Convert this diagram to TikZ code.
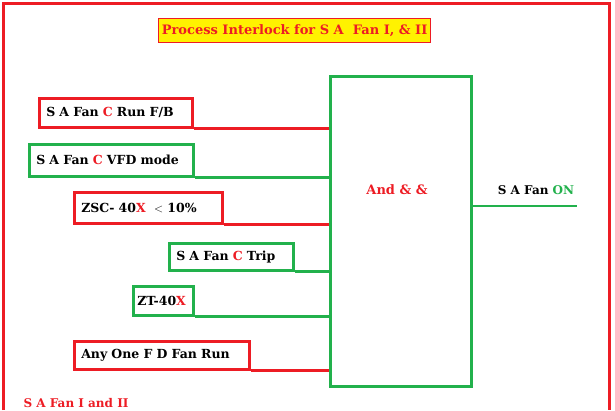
\documentclass[tikz,border=0pt]{standalone}
\usepackage{fontspec}
\setmainfont{DejaVu Serif}
\definecolor{rd}{RGB}{237,28,36}
\definecolor{gn}{RGB}{34,177,76}
\definecolor{yl}{RGB}{255,242,0}
\begin{document}
\begin{tikzpicture}[x=1pt,y=-1pt,
  inbox/.style={draw=#1,line width=2.5pt,minimum height=29pt,anchor=north west,inner xsep=7pt,inner ysep=0pt,align=left,font=\bfseries\fontsize{12.5}{14}\selectfont},
  wire/.style={draw=#1,line width=2.5pt}]
\useasboundingbox (0,0) rectangle (615,410);
\draw[rd,line width=3pt] (3,410) -- (3,3) -- (609,3) -- (609,410);
\node[draw=rd,fill=yl,line width=1pt,minimum width=270pt,minimum height=24pt,anchor=north west,text=rd,font=\bfseries\fontsize{13}{14}\selectfont] (title) at (158,18) {Process Interlock for S A\ \ Fan I, \& II};
\node[draw=gn,line width=3pt,minimum width=141pt,minimum height=310pt,anchor=north west] (and) at (329,75) {};
\node[text=rd,font=\bfseries\fontsize{13}{14}\selectfont] (andt) at (397,190) {And \& \&};
\node[font=\bfseries\fontsize{12}{14}\selectfont] (out) at (536,190) {S A Fan \textcolor{gn}{ON}};
\coordinate (oe) at (577,206);
\draw[wire=gn] (and.east |- oe) -- (oe);
\node[inbox=rd,text width=139pt] (i1) at (38,97) {S A Fan \textcolor{rd}{C} Run F/B};
\node[inbox=gn,text width=150pt,minimum height=32pt] (i2) at (28,143) {S A Fan \textcolor{rd}{C} VFD mode};
\node[inbox=rd,text width=134pt,minimum height=31pt] (i3) at (73,191) {ZSC- 40\textcolor{rd}{X}\ \ $<$ 10\%};
\node[inbox=gn,text width=110pt,minimum height=27pt] (i4) at (168,242) {S A Fan \textcolor{rd}{C} Trip};
\node[inbox=gn,text width=52pt,inner xsep=4pt] (i5) at (132,285) {ZT-40\textcolor{rd}{X}};
\node[inbox=rd,text width=161pt,minimum height=28pt] (i6) at (73,340) {Any One F D Fan Run};
\foreach \n/\c in {i1/rd,i2/gn,i3/rd,i4/gn,i5/gn,i6/rd}
  \draw[wire=\c] (\n.south east) -- (\n.south east -| and.west);
\node[text=rd,anchor=west,font=\bfseries\fontsize{12}{14}\selectfont] (foot) at (20,403) {S A Fan I and II};
\end{tikzpicture}
\end{document}
